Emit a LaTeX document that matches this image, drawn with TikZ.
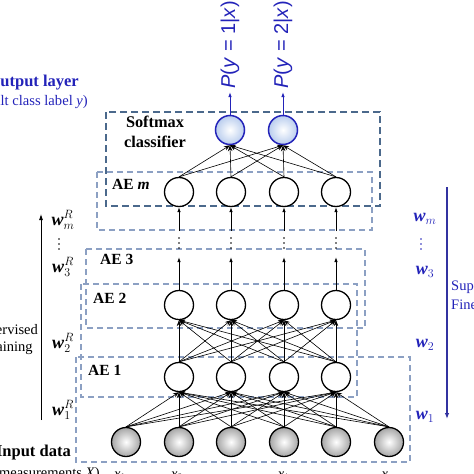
\documentclass[tikz,border=0pt]{standalone}
\usepackage{fontspec}
\setmainfont{Liberation Serif}
\newfontfamily\sansf{Liberation Sans}
\usetikzlibrary{arrows.meta}
\definecolor{boxc}{RGB}{140,160,195}
\definecolor{smc}{RGB}{75,105,140}
\definecolor{bluet}{RGB}{35,35,185}
\definecolor{arrblue}{RGB}{50,50,160}
\definecolor{outfill}{RGB}{185,205,238}
\begin{document}
\begin{tikzpicture}[x=1pt,y=-1pt,
  aebox/.style={draw=boxc, line width=1.1pt, dash pattern=on 6pt off 4pt},
  smbox/.style={draw=smc, line width=1.6pt, dash pattern=on 7pt off 4pt},
  innode/.style={circle, draw=black, line width=1.3pt, minimum size=29pt, inner sep=0pt, inner color=white, outer color=black!35},
  hidnode/.style={circle, draw=black, line width=1.3pt, minimum size=29pt, inner sep=0pt, fill=white},
  outnode/.style={circle, draw=bluet, line width=1.5pt, minimum size=29pt, inner sep=0pt, inner color=white, outer color=outfill},
  conn/.style={line width=0.6pt, -{Stealth[length=6pt,width=4.5pt]}},
  vup/.style={line width=0.9pt, -{Latex[length=5pt,width=3.5pt]}},
  aelabel/.style={font=\fontsize{15.5}{16}\selectfont\bfseries, anchor=west, inner sep=0pt},
  wlab/.style={font=\fontsize{18}{20}\selectfont, inner sep=0pt},
  bwlab/.style={font=\fontsize{18}{20}\selectfont, inner sep=0pt, text=bluet},
]
\useasboundingbox (0,0) rectangle (474,474);
\clip (0,0) rectangle (474,474);

% dashed boxes
\draw[aebox] (76,357) rectangle (410,462);
\draw[aebox] (81,284) rectangle (357,397);
\draw[aebox] (86,249) rectangle (365,328);
\draw[aebox] (97,172) rectangle (372,230);
\draw[smbox] (106,112) rectangle (380,206);

% nodes
\foreach \i/\x in {1/126,2/179,3/231,4/284,5/336,6/389}
  \node[innode] (i\i) at (\x,442) {};
\foreach \i/\x in {1/179,2/231,3/284,4/336}{
  \node[hidnode] (a\i) at (\x,377) {};
  \node[hidnode] (b\i) at (\x,305) {};
  \node[hidnode] (m\i) at (\x,192) {};
  \coordinate (u\i) at (\x,257);
  \coordinate (l\i) at (\x,231);
  \fill (\x,238) circle (0.9pt) (\x,243) circle (0.9pt) (\x,248) circle (0.9pt);
}
\node[outnode] (s1) at (230,130) {};
\node[outnode] (s2) at (283,130) {};

% connections
\foreach \i in {1,...,6}
  \foreach \j in {1,...,4}
    \draw[conn] (i\i.north) -- (a\j.south);
\foreach \i in {1,...,4}
  \foreach \j in {1,...,4}
    \draw[conn] (a\i.north) -- (b\j.south);
\foreach \i in {1,...,4}{
  \draw[conn] (m\i.north) -- (s1.south);
  \draw[conn] (m\i.north) -- (s2.south);
  \draw[vup] (b\i.north) -- (u\i);
  \draw[vup] (l\i) -- (m\i.south);
}

% softmax outputs
\coordinate (p1) at (230,92);
\coordinate (p2) at (283,92);
\draw[bluet, line width=0.9pt, -{Latex[length=5pt,width=3.5pt]}] (s1.north) -- (p1);
\draw[bluet, line width=0.9pt, -{Latex[length=5pt,width=3.5pt]}] (s2.north) -- (p2);
\node[rotate=90, anchor=west, inner sep=0pt, text=bluet, font=\sansf\fontsize{20}{22}\selectfont] (t1) at (p1) {\,\textit{P}(\textit{y} = 1|\textit{x})};
\node[rotate=90, anchor=west, inner sep=0pt, text=bluet, font=\sansf\fontsize{20}{22}\selectfont] (t2) at (p2) {\,\textit{P}(\textit{y} = 2|\textit{x})};

% labels
\node[anchor=east, inner sep=0pt, text=bluet, font=\fontsize{16.5}{18}\selectfont\bfseries] (ol) at (79,83) {Output layer};
\node[anchor=east, inner sep=0pt, text=bluet, font=\fontsize{14.6}{16}\selectfont] (rl) at (88,102) {(Result class label \textit{y})};
\node[align=center, inner sep=0pt, font=\fontsize{16.3}{20}\selectfont\bfseries] (smx) at (155,132) {Softmax\\classifier};
\node[aelabel] (lm) at (112,184) {AE \textit{m}};
\node[aelabel] (l3) at (100,259) {AE 3};
\node[aelabel] (l2) at (93,298) {AE 2};
\node[aelabel] (l1) at (88,370) {AE 1};
\node[anchor=east, inner sep=0pt, font=\fontsize{16.5}{18}\selectfont\bfseries] (ind) at (71,453) {Input data};
\node[anchor=base east, inner sep=0pt, font=\fontsize{14.5}{16}\selectfont] (raw) at (100,477) {(Raw data measurements \textit{X})};
\foreach \x/\s in {120/1,177/2,283/i,388/n}
  \node[anchor=base, inner sep=0pt, font=\fontsize{14.5}{16}\selectfont] (x\s) at (\x,478) {\textit{x}$_{\s}$};

% left: unsupervised pre-training
\coordinate (la0) at (41,420);
\coordinate (la1) at (41,214);
\draw[line width=0.8pt, -{Latex[length=6pt,width=4pt]}] (la0) -- (la1);
\node[align=center, inner sep=0pt, font=\fontsize{14.5}{17}\selectfont] (upt) at (-2,340) {Unsupervised\\Pre-training};
\node[wlab] (wrm) at (63,220) {\textbf{\textit{w}}$^{R}_{m}$};
\node[wlab] (wr3) at (63,267) {\textbf{\textit{w}}$^{R}_{3}$};
\node[wlab] (wr2) at (63,343) {\textbf{\textit{w}}$^{R}_{2}$};
\node[wlab] (wr1) at (63,410) {\textbf{\textit{w}}$^{R}_{1}$};
\fill (59,239) circle (0.9pt) (59,244) circle (0.9pt) (59,249) circle (0.9pt);

% right: supervised fine-tuning
\coordinate (ra0) at (447,187);
\coordinate (ra1) at (447,419);
\draw[arrblue, line width=1.1pt, -{Latex[length=6pt,width=4.5pt]}] (ra0) -- (ra1);
\node[anchor=west, align=left, inner sep=0pt, text=bluet, font=\fontsize{14.5}{19}\selectfont] (sft) at (451,297) {Supervised\\Fine-tuning};
\node[bwlab] (wm) at (425,219) {\textbf{\textit{w}}$_{m}$};
\node[bwlab] (w3) at (425,272) {\textbf{\textit{w}}$_{3}$};
\node[bwlab] (w2) at (425,345) {\textbf{\textit{w}}$_{2}$};
\node[bwlab] (w1) at (425,417) {\textbf{\textit{w}}$_{1}$};
\fill[bluet] (421,239) circle (0.9pt) (421,244) circle (0.9pt) (421,249) circle (0.9pt);
\end{tikzpicture}
\end{document}
